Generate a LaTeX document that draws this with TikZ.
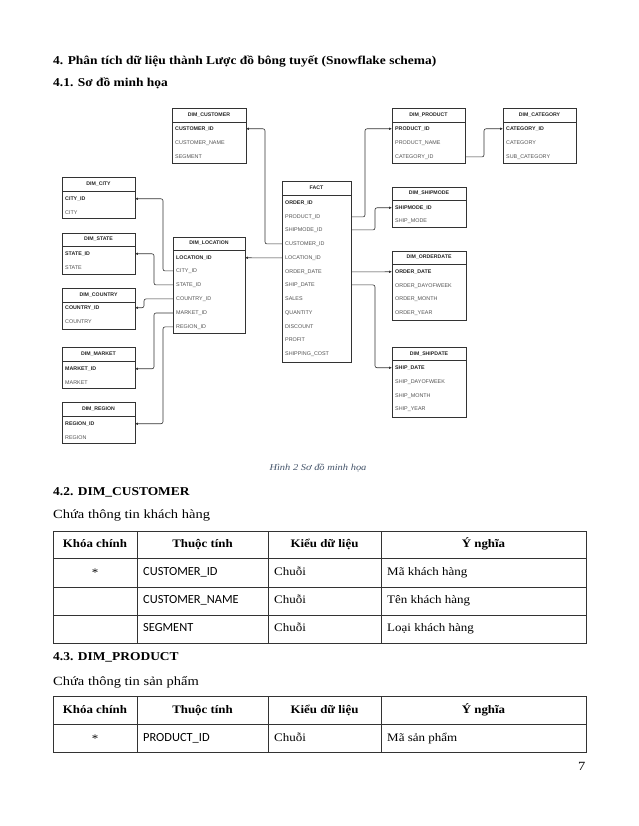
\documentclass[tikz,border=0pt]{standalone}
\usepackage{fontspec}
\setmainfont{Liberation Serif}
\newfontfamily\bodyf{Liberation Serif}[FakeStretch=1.16]
\newfontfamily\cellf{Liberation Serif}[FakeStretch=1.13]
\newfontfamily\boldf{Liberation Serif}[FakeStretch=1.12]
\newfontfamily\diag{Liberation Sans}
\newfontfamily\calib{Carlito}
\usetikzlibrary{arrows.meta}
\definecolor{boxc}{HTML}{333333}
\definecolor{capc}{HTML}{44546A}
\newcommand\mkent[7]{%
  \node[ent, minimum width={#4-#2}, minimum height={#6-#3}] (#1) at (#2,#3) {};
  \node[etitle] (#1T) at ({(#2+#4)/2},{(#3+#5)/2}) {#7};
  \draw[eline] (#2,#5) -- (#4,#5);
}
\begin{document}
\begin{tikzpicture}[x=1pt,y=-1pt,
  ent/.style={draw=boxc, line width=0.6pt, inner sep=0pt, outer sep=0pt, anchor=north west, fill=white},
  eline/.style={draw=boxc, line width=0.5pt},
  etitle/.style={font=\diag\fontsize{5.2}{6}\selectfont\bfseries, text=black!85, inner sep=0pt},
  ekey/.style={font=\diag\fontsize{5.3}{6}\selectfont\bfseries, anchor=mid west, inner sep=0pt, text=black!85},
  erow/.style={font=\diag\fontsize{5.4}{6}\selectfont, anchor=mid west, inner sep=0pt, text=black!68},
  conn/.style={draw=boxc, line width=0.6pt, rounded corners=2pt, -{Latex[length=2.8pt,width=2.6pt]}},
  hd/.style={font=\boldf\fontsize{12}{14}\selectfont\bfseries, anchor=mid west, inner sep=0pt},
  bodyt/.style={font=\bodyf\fontsize{12.5}{14}\selectfont, anchor=mid west, inner sep=0pt},
  cellt/.style={font=\cellf\fontsize{11.5}{13}\selectfont, anchor=mid west, inner sep=0pt},
  thd/.style={font=\boldf\fontsize{11.5}{13}\selectfont\bfseries, inner sep=0pt, anchor=mid},
  tcal/.style={font=\calib\fontsize{12.4}{14}\selectfont, anchor=mid west, inner sep=0pt},
  tline/.style={draw=black!80, line width=0.7pt},
  capt/.style={font=\bodyf\fontsize{9}{11}\selectfont\itshape, text=capc, inner sep=0pt}
]
\useasboundingbox (0,0) rectangle (638,826);
\fill[white] (0,0) rectangle (638,826);

% headings
\node[hd] (h1) at (53,62) {4. Phân tích dữ liệu thành Lược đồ bông tuyết (Snowflake schema)};
\node[hd] (h2) at (53,84) {4.1. Sơ đồ minh họa};

% ===== entities =====
\mkent{cust}{172}{108}{246}{122}{163}{DIM\_CUSTOMER}
\node[ekey] (custId) at (175,128) {CUSTOMER\_ID};
\node[erow] (custName) at (175,142) {CUSTOMER\_NAME};
\node[erow] (custSeg) at (175,156) {SEGMENT};

\mkent{prod}{392}{108}{465}{122}{163}{DIM\_PRODUCT}
\node[ekey] (prodId) at (395,128) {PRODUCT\_ID};
\node[erow] (prodName) at (395,142) {PRODUCT\_NAME};
\node[erow] (prodCat) at (395,156) {CATEGORY\_ID};

\mkent{cat}{503}{108}{576}{122}{163}{DIM\_CATEGORY}
\node[ekey] (catId) at (506,128) {CATEGORY\_ID};
\node[erow] (catName) at (506,142) {CATEGORY};
\node[erow] (catSub) at (506,156) {SUB\_CATEGORY};

\mkent{fact}{282}{181}{351}{195}{362}{FACT}
\node[ekey] (factOrd) at (285,202) {ORDER\_ID};
\node[erow] (factProd) at (285,216) {PRODUCT\_ID};
\node[erow] (factShipm) at (285,229) {SHIPMODE\_ID};
\node[erow] (factCust) at (285,243) {CUSTOMER\_ID};
\node[erow] (factLoc) at (285,257) {LOCATION\_ID};
\node[erow] (factOd) at (285,271) {ORDER\_DATE};
\node[erow] (factSd) at (285,284) {SHIP\_DATE};
\node[erow] (factSales) at (285,298) {SALES};
\node[erow] (factQty) at (285,312) {QUANTITY};
\node[erow] (factDisc) at (285,326) {DISCOUNT};
\node[erow] (factProf) at (285,339) {PROFIT};
\node[erow] (factShc) at (285,353) {SHIPPING\_COST};

\mkent{shipm}{392}{187}{466}{200}{227}{DIM\_SHIPMODE}
\node[ekey] (smId) at (395,207) {SHIPMODE\_ID};
\node[erow] (smMode) at (395,220) {SHIP\_MODE};

\mkent{od}{392}{251}{466}{264}{320}{DIM\_ORDERDATE}
\node[ekey] (odId) at (395,271) {ORDER\_DATE};
\node[erow] (odDow) at (395,285) {ORDER\_DAYOFWEEK};
\node[erow] (odMon) at (395,298) {ORDER\_MONTH};
\node[erow] (odYr) at (395,312) {ORDER\_YEAR};

\mkent{sd}{392}{347}{466}{360}{417}{DIM\_SHIPDATE}
\node[ekey] (sdId) at (395,367) {SHIP\_DATE};
\node[erow] (sdDow) at (395,381) {SHIP\_DAYOFWEEK};
\node[erow] (sdMon) at (395,395) {SHIP\_MONTH};
\node[erow] (sdYr) at (395,408) {SHIP\_YEAR};

\mkent{city}{62}{177}{135}{191}{218}{DIM\_CITY}
\node[ekey] (cityId) at (65,198) {CITY\_ID};
\node[erow] (cityN) at (65,212) {CITY};

\mkent{state}{62}{233}{135}{246}{274}{DIM\_STATE}
\node[ekey] (stateId) at (65,253) {STATE\_ID};
\node[erow] (stateN) at (65,267) {STATE};

\mkent{ctry}{62}{288}{135}{302}{329}{DIM\_COUNTRY}
\node[ekey] (ctryId) at (65,307) {COUNTRY\_ID};
\node[erow] (ctryN) at (65,321) {COUNTRY};

\mkent{loc}{173}{237}{245}{250}{333}{DIM\_LOCATION}
\node[ekey] (locId) at (176,257) {LOCATION\_ID};
\node[erow] (locCity) at (176,270) {CITY\_ID};
\node[erow] (locState) at (176,284) {STATE\_ID};
\node[erow] (locCtry) at (176,298) {COUNTRY\_ID};
\node[erow] (locMkt) at (176,312) {MARKET\_ID};
\node[erow] (locReg) at (176,326) {REGION\_ID};

\mkent{mkt}{62}{347}{135}{361}{388}{DIM\_MARKET}
\node[ekey] (mktId) at (65,368) {MARKET\_ID};
\node[erow] (mktN) at (65,382) {MARKET};

\mkent{reg}{62}{402}{135}{416}{443}{DIM\_REGION}
\node[ekey] (regId) at (65,423) {REGION\_ID};
\node[erow] (regN) at (65,437) {REGION};

% ===== connectors =====
\coordinate (j1) at (265,0);
\coordinate (j2) at (365,0);
\coordinate (j3) at (375,0);
\coordinate (j4) at (484,0);
\coordinate (j5) at (163,0);
\coordinate (j6) at (154,0);
\coordinate (j7) at (144,0);
\draw[conn] (factCust -| fact.west) -- (factCust -| j1) |- (custId -| cust.east);
\draw[conn] (factLoc -| fact.west) -- (locId -| loc.east);
\draw[conn] (factProd -| fact.east) -- (factProd -| j2) |- (prodId -| prod.west);
\draw[conn] (factShipm -| fact.east) -- (factShipm -| j3) |- (smId -| shipm.west);
\draw[conn] (factOd -| fact.east) -- (odId -| od.west);
\draw[conn] (factSd -| fact.east) -- (factSd -| j3) |- (sdId -| sd.west);
\draw[conn] (prodCat -| prod.east) -- (prodCat -| j4) |- (catId -| cat.west);
\draw[conn] (locCity -| loc.west) -- (locCity -| j5) |- (cityId -| city.east);
\draw[conn] (locState -| loc.west) -- (locState -| j6) |- (stateId -| state.east);
\draw[conn] (locCtry -| loc.west) -- (locCtry -| j7) |- (ctryId -| ctry.east);
\draw[conn] (locMkt -| loc.west) -- (locMkt -| j6) |- (mktId -| mkt.east);
\draw[conn] (locReg -| loc.west) -- (locReg -| j5) |- (regId -| reg.east);

% caption
\node[capt] (cap) at (318,468) {Hình 2 Sơ đồ minh họa};

% ===== section 4.2 =====
\node[hd] (h3) at (53,493) {4.2. DIM\_CUSTOMER};
\node[bodyt] (p1) at (53,516) {Chứa thông tin khách hàng};
\draw[tline] (53,531) rectangle (586,643);
\draw[tline] (53,558) -- (586,558);
\draw[tline] (53,587) -- (586,587);
\draw[tline] (53,615) -- (586,615);
\draw[tline] (137,531) -- (137,643);
\draw[tline] (268,531) -- (268,643);
\draw[tline] (381,531) -- (381,643);
\node[thd] (t1h1) at (95,545) {Khóa chính};
\node[thd] (t1h2) at (202.5,545) {Thuộc tính};
\node[thd] (t1h3) at (324.5,545) {Kiểu dữ liệu};
\node[thd] (t1h4) at (483.5,545) {Ý nghĩa};
\node[cellt, anchor=mid] (t1r1a) at (95,574) {*};
\node[tcal] (t1r1b) at (143,573) {CUSTOMER\_ID};
\node[cellt] (t1r1c) at (274,573) {Chuỗi};
\node[cellt] (t1r1d) at (387,573) {Mã khách hàng};
\node[tcal] (t1r2b) at (143,601) {CUSTOMER\_NAME};
\node[cellt] (t1r2c) at (274,601) {Chuỗi};
\node[cellt] (t1r2d) at (387,601) {Tên khách hàng};
\node[tcal] (t1r3b) at (143,629) {SEGMENT};
\node[cellt] (t1r3c) at (274,629) {Chuỗi};
\node[cellt] (t1r3d) at (387,629) {Loại khách hàng};

% ===== section 4.3 =====
\node[hd] (h4) at (53,658) {4.3. DIM\_PRODUCT};
\node[bodyt] (p2) at (53,683) {Chứa thông tin sản phẩm};
\draw[tline] (53,696) rectangle (586,752);
\draw[tline] (53,724) -- (586,724);
\draw[tline] (137,696) -- (137,752);
\draw[tline] (268,696) -- (268,752);
\draw[tline] (381,696) -- (381,752);
\node[thd] (t2h1) at (95,711) {Khóa chính};
\node[thd] (t2h2) at (202.5,711) {Thuộc tính};
\node[thd] (t2h3) at (324.5,711) {Kiểu dữ liệu};
\node[thd] (t2h4) at (483.5,711) {Ý nghĩa};
\node[cellt, anchor=mid] (t2r1a) at (95,740) {*};
\node[tcal] (t2r1b) at (143,739) {PRODUCT\_ID};
\node[cellt] (t2r1c) at (274,739) {Chuỗi};
\node[cellt] (t2r1d) at (387,739) {Mã sản phẩm};

% page number
\node[bodyt] (pg) at (578,768) {7};
\end{tikzpicture}
\end{document}
